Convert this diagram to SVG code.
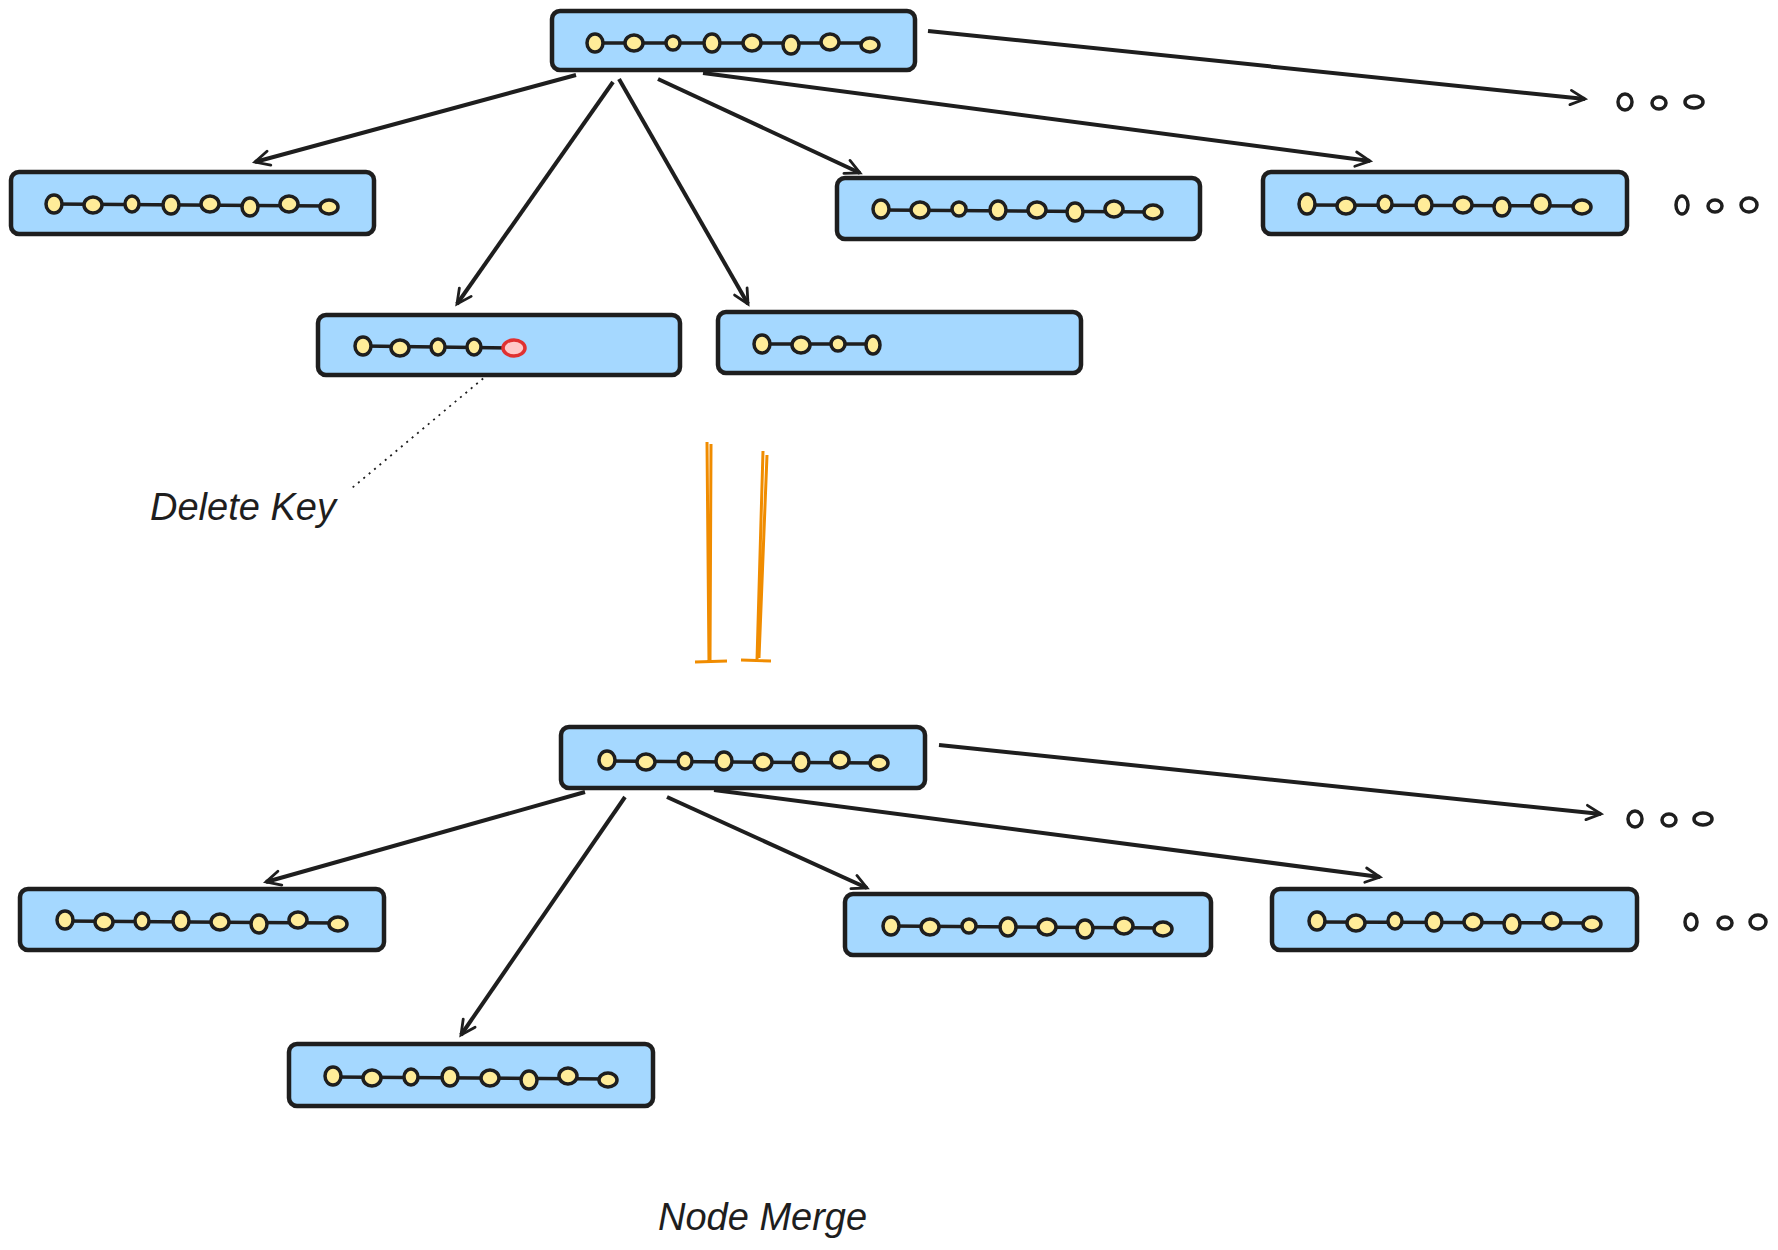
<svg xmlns="http://www.w3.org/2000/svg" width="1778" height="1250" viewBox="0 0 1778 1250">
<defs>
<style>
.box{fill:#a5d8ff;stroke:#1e1e1e;stroke-width:4.5}
.k{fill:#ffec99;stroke:#1e1e1e;stroke-width:3.5}
.kr{fill:#ffc9c9;stroke:#e03131;stroke-width:3.5}
.o{fill:#fff;stroke:#1e1e1e;stroke-width:3.5}
.ln{stroke:#1e1e1e;stroke-width:3.5}
.ar{stroke:#1e1e1e;stroke-width:4;fill:none;marker-end:url(#ah)}
.or{stroke:#f08c00;stroke-width:3;fill:none}
.t{font-family:"Liberation Sans",sans-serif;font-size:38px;fill:#1e1e1e}
</style>
<marker id="ah" viewBox="0 0 20 20" refX="18" refY="10" markerWidth="16" markerHeight="16" orient="auto" markerUnits="userSpaceOnUse" overflow="visible">
<path d="M0,1 L18,10 L0,19" fill="none" stroke="#1e1e1e" stroke-width="3.5" stroke-linecap="round"/>
</marker>
</defs>
<rect width="1778" height="1250" fill="#fff"/>
<g id="connectors">
<line class="ar" x1="576" y1="75" x2="255" y2="162"/>
<line class="ar" x1="613" y1="82" x2="457" y2="304"/>
<line class="ar" x1="619" y1="79" x2="748" y2="304"/>
<line class="ar" x1="658" y1="79" x2="860" y2="173"/>
<line class="ar" x1="703" y1="73" x2="1370" y2="161"/>
<line class="ar" x1="928" y1="31" x2="1585" y2="99"/>
<line class="ar" x1="585" y1="792" x2="266" y2="882"/>
<line class="ar" x1="625" y1="797" x2="461" y2="1035"/>
<line class="ar" x1="667" y1="797" x2="867" y2="888"/>
<line class="ar" x1="714" y1="790" x2="1380" y2="877"/>
<line class="ar" x1="939" y1="745" x2="1601" y2="814"/>
<line x1="510" y1="356" x2="352" y2="488" stroke="#1e1e1e" stroke-width="1.8" stroke-dasharray="2 5"/>
<g id="transition">
<path class="or" d="M707 442 L709 662 M711 444 L710 660 M695 662 L727 661"/>
<path class="or" d="M763 451 L757 660 M767 455 L759 658 M741 660 L771 661"/>
</g>
</g>
<g id="root">
<rect class="box" x="552" y="11" width="363" height="59" rx="8"/>
<line class="ln" x1="595" y1="43" x2="870" y2="43"/>
<ellipse class="k" cx="595" cy="43" rx="8" ry="9"/><ellipse class="k" cx="634" cy="43" rx="9" ry="8"/><ellipse class="k" cx="673" cy="43" rx="7" ry="7"/><ellipse class="k" cx="712" cy="43" rx="8" ry="9"/><ellipse class="k" cx="752" cy="43" rx="9" ry="8"/><ellipse class="k" cx="791" cy="45" rx="8" ry="9"/><ellipse class="k" cx="830" cy="42" rx="9" ry="8"/><ellipse class="k" cx="870" cy="45" rx="9" ry="7"/>
</g>
<g id="top-ooo"><ellipse class="o" cx="1625" cy="102" rx="7" ry="8"/><ellipse class="o" cx="1659" cy="103" rx="7" ry="6"/><ellipse class="o" cx="1694" cy="102" rx="9" ry="6"/></g>
<g id="childA">
<rect class="box" x="11" y="172" width="363" height="62" rx="8"/>
<line class="ln" x1="54" y1="204" x2="329" y2="206"/>
<ellipse class="k" cx="54" cy="204" rx="8" ry="9"/><ellipse class="k" cx="93" cy="205" rx="9" ry="8"/><ellipse class="k" cx="132" cy="204" rx="7" ry="8"/><ellipse class="k" cx="171" cy="205" rx="8" ry="9"/><ellipse class="k" cx="210" cy="204" rx="9" ry="8"/><ellipse class="k" cx="250" cy="207" rx="8" ry="9"/><ellipse class="k" cx="289" cy="204" rx="9" ry="8"/><ellipse class="k" cx="329" cy="207" rx="9" ry="7"/>
</g>
<g id="childB">
<rect class="box" x="318" y="315" width="362" height="60" rx="8"/>
<line class="ln" x1="363" y1="346" x2="514" y2="348"/>
<ellipse class="k" cx="363" cy="346" rx="8" ry="9"/><ellipse class="k" cx="400" cy="348" rx="9" ry="8"/><ellipse class="k" cx="438" cy="347" rx="7" ry="8"/><ellipse class="k" cx="474" cy="347" rx="7" ry="8"/>
<ellipse class="kr" cx="514" cy="348" rx="11" ry="8"/>
</g>
<g id="childC">
<rect class="box" x="718" y="312" width="363" height="61" rx="8"/>
<line class="ln" x1="762" y1="344" x2="873" y2="344"/>
<ellipse class="k" cx="762" cy="344" rx="8" ry="9"/><ellipse class="k" cx="801" cy="345" rx="9" ry="8"/><ellipse class="k" cx="838" cy="344" rx="7" ry="7"/><ellipse class="k" cx="873" cy="345" rx="7" ry="9"/>
</g>
<g id="childD">
<rect class="box" x="837" y="178" width="363" height="61" rx="8"/>
<line class="ln" x1="881" y1="210" x2="1153" y2="212"/>
<ellipse class="k" cx="881" cy="209" rx="8" ry="9"/><ellipse class="k" cx="920" cy="210" rx="9" ry="8"/><ellipse class="k" cx="959" cy="209" rx="7" ry="7"/><ellipse class="k" cx="998" cy="210" rx="8" ry="9"/><ellipse class="k" cx="1037" cy="210" rx="9" ry="8"/><ellipse class="k" cx="1075" cy="212" rx="8" ry="9"/><ellipse class="k" cx="1114" cy="209" rx="9" ry="8"/><ellipse class="k" cx="1153" cy="212" rx="9" ry="7"/>
</g>
<g id="childE">
<rect class="box" x="1263" y="172" width="364" height="62" rx="8"/>
<line class="ln" x1="1307" y1="205" x2="1582" y2="206"/>
<ellipse class="k" cx="1307" cy="204" rx="8" ry="10"/><ellipse class="k" cx="1346" cy="206" rx="9" ry="8"/><ellipse class="k" cx="1385" cy="204" rx="7" ry="8"/><ellipse class="k" cx="1424" cy="205" rx="8" ry="9"/><ellipse class="k" cx="1463" cy="205" rx="9" ry="8"/><ellipse class="k" cx="1502" cy="207" rx="8" ry="9"/><ellipse class="k" cx="1541" cy="204" rx="9" ry="9"/><ellipse class="k" cx="1582" cy="207" rx="9" ry="7"/>
</g>
<g id="right-ooo"><ellipse class="o" cx="1682" cy="205" rx="6" ry="9"/><ellipse class="o" cx="1715" cy="206" rx="7" ry="6"/><ellipse class="o" cx="1749" cy="205" rx="8" ry="7"/></g>
<g id="label-delete"><text class="t" x="150" y="520" font-style="italic">Delete Key</text></g>

<g id="root2">
<rect class="box" x="561" y="727" width="364" height="61" rx="8"/>
<line class="ln" x1="607" y1="761" x2="879" y2="763"/>
<ellipse class="k" cx="607" cy="760" rx="8" ry="9"/><ellipse class="k" cx="646" cy="762" rx="9" ry="8"/><ellipse class="k" cx="685" cy="761" rx="7" ry="8"/><ellipse class="k" cx="724" cy="761" rx="8" ry="9"/><ellipse class="k" cx="763" cy="762" rx="9" ry="8"/><ellipse class="k" cx="801" cy="762" rx="8" ry="9"/><ellipse class="k" cx="840" cy="760" rx="9" ry="8"/><ellipse class="k" cx="879" cy="763" rx="9" ry="7"/>
</g>
<g id="bottom-ooo"><ellipse class="o" cx="1635" cy="819" rx="7" ry="8"/><ellipse class="o" cx="1669" cy="820" rx="7" ry="6"/><ellipse class="o" cx="1703" cy="819" rx="9" ry="6"/></g>
<g id="childA2">
<rect class="box" x="20" y="889" width="364" height="61" rx="8"/>
<line class="ln" x1="65" y1="921" x2="338" y2="923"/>
<ellipse class="k" cx="65" cy="920" rx="8" ry="9"/><ellipse class="k" cx="104" cy="922" rx="9" ry="8"/><ellipse class="k" cx="142" cy="921" rx="7" ry="8"/><ellipse class="k" cx="181" cy="921" rx="8" ry="9"/><ellipse class="k" cx="220" cy="922" rx="9" ry="8"/><ellipse class="k" cx="259" cy="924" rx="8" ry="9"/><ellipse class="k" cx="298" cy="920" rx="9" ry="8"/><ellipse class="k" cx="338" cy="924" rx="9" ry="7"/>
</g>
<g id="childB2">
<rect class="box" x="289" y="1044" width="364" height="62" rx="8"/>
<line class="ln" x1="333" y1="1077" x2="608" y2="1079"/>
<ellipse class="k" cx="333" cy="1076" rx="8" ry="9"/><ellipse class="k" cx="372" cy="1078" rx="9" ry="8"/><ellipse class="k" cx="411" cy="1077" rx="7" ry="8"/><ellipse class="k" cx="450" cy="1077" rx="8" ry="9"/><ellipse class="k" cx="490" cy="1078" rx="9" ry="8"/><ellipse class="k" cx="529" cy="1080" rx="8" ry="9"/><ellipse class="k" cx="568" cy="1076" rx="9" ry="8"/><ellipse class="k" cx="608" cy="1080" rx="9" ry="7"/>
</g>
<g id="childD2">
<rect class="box" x="845" y="894" width="366" height="61" rx="8"/>
<line class="ln" x1="891" y1="926" x2="1163" y2="928"/>
<ellipse class="k" cx="891" cy="926" rx="8" ry="9"/><ellipse class="k" cx="930" cy="927" rx="9" ry="8"/><ellipse class="k" cx="969" cy="926" rx="7" ry="7"/><ellipse class="k" cx="1008" cy="927" rx="8" ry="9"/><ellipse class="k" cx="1047" cy="927" rx="9" ry="8"/><ellipse class="k" cx="1085" cy="929" rx="8" ry="9"/><ellipse class="k" cx="1124" cy="926" rx="9" ry="8"/><ellipse class="k" cx="1163" cy="929" rx="9" ry="7"/>
</g>
<g id="childE2">
<rect class="box" x="1272" y="889" width="365" height="61" rx="8"/>
<line class="ln" x1="1317" y1="922" x2="1592" y2="923"/>
<ellipse class="k" cx="1317" cy="921" rx="8" ry="9"/><ellipse class="k" cx="1356" cy="923" rx="9" ry="8"/><ellipse class="k" cx="1395" cy="921" rx="7" ry="8"/><ellipse class="k" cx="1434" cy="922" rx="8" ry="9"/><ellipse class="k" cx="1473" cy="922" rx="9" ry="8"/><ellipse class="k" cx="1512" cy="924" rx="8" ry="9"/><ellipse class="k" cx="1552" cy="921" rx="9" ry="8"/><ellipse class="k" cx="1592" cy="924" rx="9" ry="7"/>
</g>
<g id="right-ooo2"><ellipse class="o" cx="1691" cy="922" rx="6" ry="8"/><ellipse class="o" cx="1725" cy="923" rx="7" ry="6"/><ellipse class="o" cx="1758" cy="922" rx="8" ry="7"/></g>
<g id="label-merge"><text class="t" x="658" y="1230" font-style="italic">Node Merge</text></g>
</svg>
